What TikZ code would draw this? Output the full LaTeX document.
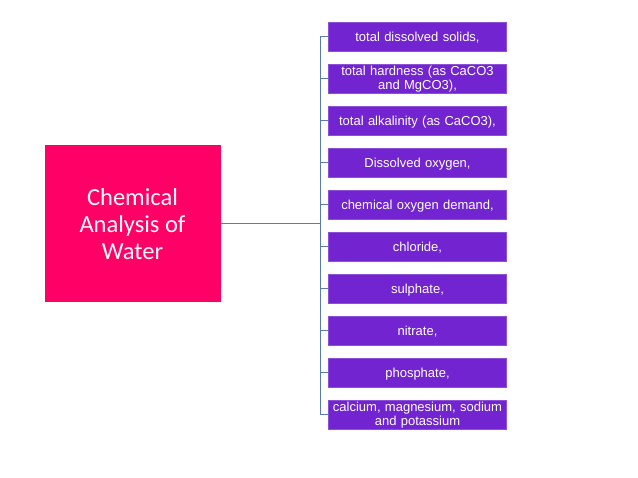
\documentclass[tikz,border=0pt]{standalone}
\usepackage{fontspec}
\setmainfont{Liberation Sans}
\newfontfamily\calib{Carlito}
\definecolor{pinkbox}{HTML}{FF0066}
\definecolor{purplebox}{HTML}{7124D0}
\definecolor{linkcol}{HTML}{5A7BAE}
\begin{document}
\begin{tikzpicture}[x=1pt,y=-1pt,
  item/.style={fill=purplebox,draw=purplebox!80!white,line width=0.5pt,minimum width=177pt,minimum height=29pt,inner sep=1pt,text=white,align=center,font=\fontsize{13}{14}\selectfont,text width=176pt},
  singleline/.style={item,text depth=0pt},
  mainbox/.style={fill=pinkbox,minimum width=176pt,minimum height=157pt,inner sep=0pt,text=white!92!pink,align=center,font=\calib\fontsize{24.5}{27}\selectfont},
  link/.style={draw=linkcol,line width=1pt}]
\useasboundingbox (0,0) rectangle (638,478);
\fill[white] (0,0) rectangle (638,478);
\node[mainbox] (main) at (132.5,224) {Chemical\\Analysis of\\Water};
\node[singleline] (b1) at (417.5,37) {total dissolved solids,};
\node[item] (b2) at (417.5,79) {total hardness (as CaCO3\\and MgCO3),};
\node[singleline] (b3) at (417.5,121) {total alkalinity (as CaCO3),};
\node[singleline] (b4) at (417.5,163) {Dissolved oxygen,};
\node[singleline] (b5) at (417.5,205) {chemical oxygen demand,};
\node[singleline] (b6) at (417.5,247) {chloride,};
\node[singleline] (b7) at (417.5,289) {sulphate,};
\node[singleline] (b8) at (417.5,331) {nitrate,};
\node[singleline] (b9) at (417.5,373) {phosphate,};
\node[item] (b10) at (417.5,415) {calcium, magnesium, sodium\\and potassium};
\draw[link] (main.east) -- ++(99.5,0) coordinate (j);
\draw[link] (j |- b1.west) -- (j |- b10.west);
\foreach \b in {b1,b2,b3,b4,b5,b6,b7,b8,b9,b10}
  \draw[link] (j |- \b.west) -- (\b.west);
\end{tikzpicture}
\end{document}
